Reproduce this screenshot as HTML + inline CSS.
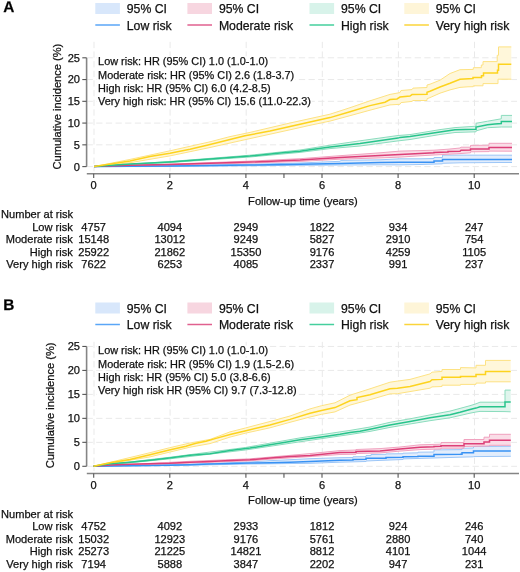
<!DOCTYPE html>
<html><head><meta charset="utf-8"><style>
html,body{margin:0;padding:0;background:#fff;width:520px;height:572px;overflow:hidden}
svg{display:block;will-change:transform}
text{font-family:"Liberation Sans", sans-serif;fill:#111;stroke:#111;stroke-width:0.25px}
.t11{font-size:11.08px}
.t12{font-size:12.25px}
.hr{font-size:10.9px}
.lab{text-rendering:geometricPrecision;font-size:15.4px;font-weight:bold;fill:#000}
.g{stroke:#e9e9e9;stroke-width:1;stroke-dasharray:6.3 3.35}
.e{fill:none;stroke-width:1}
.l{fill:none;stroke-width:1.5;stroke-linejoin:miter}
.ax{stroke:#858585;stroke-width:1.6}
.tk{stroke:#555;stroke-width:1.1}
</style></head><body>
<svg width="520" height="572" viewBox="0 0 520 572">
<line x1="87.5" y1="166.60" x2="517" y2="166.60" class="g" stroke-dashoffset="0.95"/>
<line x1="87.5" y1="144.84" x2="517" y2="144.84" class="g" stroke-dashoffset="0.95"/>
<line x1="87.5" y1="123.08" x2="517" y2="123.08" class="g" stroke-dashoffset="0.95"/>
<line x1="87.5" y1="101.32" x2="517" y2="101.32" class="g" stroke-dashoffset="0.95"/>
<line x1="87.5" y1="79.56" x2="517" y2="79.56" class="g" stroke-dashoffset="0.95"/>
<line x1="87.5" y1="57.80" x2="517" y2="57.80" class="g" stroke-dashoffset="0.95"/>
<line x1="94.00" y1="41.8" x2="94.00" y2="171.4" class="g"/>
<line x1="170.10" y1="41.8" x2="170.10" y2="171.4" class="g"/>
<line x1="246.20" y1="41.8" x2="246.20" y2="171.4" class="g"/>
<line x1="322.30" y1="41.8" x2="322.30" y2="171.4" class="g"/>
<line x1="398.40" y1="41.8" x2="398.40" y2="171.4" class="g"/>
<line x1="474.50" y1="41.8" x2="474.50" y2="171.4" class="g"/>
<polygon points="94.0,166.6 170.0,165.5 250.0,164.3 300.0,163.0 340.0,161.3 341.0,160.4 380.0,159.8 400.0,158.8 420.0,158.8 434.0,158.5 434.0,157.5 442.5,157.5 442.5,155.1 512.0,155.2 512.0,162.5 500.0,162.5 460.0,162.8 442.5,163.3 442.5,163.8 420.0,164.5 400.0,164.9 380.0,164.8 340.0,165.0 300.0,165.3 250.0,165.8 170.0,166.5 94.0,166.6" fill="#e2edfc" fill-opacity="1"/>
<polygon points="94.0,166.6 170.0,164.1 250.0,161.1 300.0,158.7 340.0,155.7 380.0,152.8 400.0,151.1 420.0,150.6 434.0,150.2 448.0,149.2 460.0,148.0 461.0,147.2 470.5,147.2 470.5,145.4 489.0,145.2 489.0,143.3 512.0,143.3 512.0,151.2 489.0,151.1 489.0,151.6 470.5,151.8 470.5,152.8 460.0,153.6 434.0,155.0 420.0,155.8 400.0,157.1 380.0,157.9 340.0,159.2 300.0,161.4 250.0,163.1 170.0,164.9 94.0,166.6" fill="#fadde7" fill-opacity="1"/>
<polygon points="94.0,166.6 170.0,161.5 250.0,155.2 300.0,150.0 330.0,145.2 360.0,140.8 398.0,135.5 410.0,134.6 440.0,129.6 455.0,127.6 476.0,126.2 476.0,123.3 487.6,121.2 501.3,118.8 501.3,115.4 512.0,115.4 512.0,127.0 501.3,127.0 487.6,127.7 476.0,130.9 476.0,131.8 455.0,132.5 440.0,134.5 410.0,139.5 398.0,140.9 360.0,146.0 330.0,148.6 300.0,152.4 250.0,157.0 170.0,162.5 94.0,166.6" fill="#e0f5ed" fill-opacity="1"/>
<polygon points="94.0,166.6 130.0,159.4 170.0,150.8 210.0,141.8 230.0,136.6 250.0,132.4 290.0,123.0 310.0,118.6 330.0,114.2 350.0,107.7 370.0,100.8 390.0,94.4 400.0,92.6 401.0,90.5 412.0,89.6 413.0,88.1 427.0,87.5 427.0,85.0 430.0,84.2 440.0,80.2 450.0,73.5 460.0,69.7 473.3,69.4 473.3,67.7 481.3,67.7 481.3,65.0 483.0,65.0 483.0,61.6 497.2,61.6 497.2,55.3 498.5,55.3 498.5,46.9 511.3,46.9 511.3,79.2 498.0,79.2 498.0,83.6 483.0,83.6 483.0,85.8 473.3,85.8 473.3,86.7 468.0,86.8 460.0,87.4 450.0,89.9 440.0,93.2 430.0,97.6 427.0,98.8 427.0,100.5 413.0,100.5 412.0,101.4 401.0,102.6 400.0,104.3 390.0,104.9 370.0,110.2 350.0,115.7 330.0,121.1 310.0,125.3 290.0,129.8 250.0,138.6 210.0,147.5 170.0,155.9 130.0,162.7 94.0,166.6" fill="#fff7da" fill-opacity="1"/>
<polyline points="94.0,166.6 170.0,165.5 250.0,164.3 300.0,163.0 340.0,161.3 341.0,160.4 380.0,159.8 400.0,158.8 420.0,158.8 434.0,158.5 434.0,157.5 442.5,157.5 442.5,155.1 512.0,155.2" class="e" stroke="#9cc6f7"/>
<polyline points="94.0,166.6 170.0,166.5 250.0,165.8 300.0,165.3 340.0,165.0 380.0,164.8 400.0,164.9 420.0,164.5 442.5,163.8 442.5,163.3 460.0,162.8 500.0,162.5 512.0,162.5" class="e" stroke="#9cc6f7"/>
<polyline points="94.0,166.6 170.0,164.1 250.0,161.1 300.0,158.7 340.0,155.7 380.0,152.8 400.0,151.1 420.0,150.6 434.0,150.2 448.0,149.2 460.0,148.0 461.0,147.2 470.5,147.2 470.5,145.4 489.0,145.2 489.0,143.3 512.0,143.3" class="e" stroke="#f0a2bf"/>
<polyline points="94.0,166.6 170.0,164.9 250.0,163.1 300.0,161.4 340.0,159.2 380.0,157.9 400.0,157.1 420.0,155.8 434.0,155.0 460.0,153.6 470.5,152.8 470.5,151.8 489.0,151.6 489.0,151.1 512.0,151.2" class="e" stroke="#f0a2bf"/>
<polyline points="94.0,166.6 170.0,161.5 250.0,155.2 300.0,150.0 330.0,145.2 360.0,140.8 398.0,135.5 410.0,134.6 440.0,129.6 455.0,127.6 476.0,126.2 476.0,123.3 487.6,121.2 501.3,118.8 501.3,115.4 512.0,115.4" class="e" stroke="#8bdcbd"/>
<polyline points="94.0,166.6 170.0,162.5 250.0,157.0 300.0,152.4 330.0,148.6 360.0,146.0 398.0,140.9 410.0,139.5 440.0,134.5 455.0,132.5 476.0,131.8 476.0,130.9 487.6,127.7 501.3,127.0 512.0,127.0" class="e" stroke="#8bdcbd"/>
<polyline points="94.0,166.6 130.0,159.4 170.0,150.8 210.0,141.8 230.0,136.6 250.0,132.4 290.0,123.0 310.0,118.6 330.0,114.2 350.0,107.7 370.0,100.8 390.0,94.4 400.0,92.6 401.0,90.5 412.0,89.6 413.0,88.1 427.0,87.5 427.0,85.0 430.0,84.2 440.0,80.2 450.0,73.5 460.0,69.7 473.3,69.4 473.3,67.7 481.3,67.7 481.3,65.0 483.0,65.0 483.0,61.6 497.2,61.6 497.2,55.3 498.5,55.3 498.5,46.9 511.3,46.9" class="e" stroke="#fde283"/>
<polyline points="94.0,166.6 130.0,162.7 170.0,155.9 210.0,147.5 250.0,138.6 290.0,129.8 310.0,125.3 330.0,121.1 350.0,115.7 370.0,110.2 390.0,104.9 400.0,104.3 401.0,102.6 412.0,101.4 413.0,100.5 427.0,100.5 427.0,98.8 430.0,97.6 440.0,93.2 450.0,89.9 460.0,87.4 468.0,86.8 473.3,86.7 473.3,85.8 483.0,85.8 483.0,83.6 498.0,83.6 498.0,79.2 511.3,79.2" class="e" stroke="#fde283"/>
<polyline points="94.0,166.6 130.0,166.3 170.0,166.0 250.0,165.0 300.0,164.2 340.0,163.4 380.0,162.6 400.0,162.3 420.0,162.3 434.0,162.2 434.0,161.0 442.5,161.0 442.5,159.6 512.0,159.5" class="l" stroke="#3892f4"/>
<polyline points="94.0,166.6 130.0,165.2 170.0,164.5 250.0,162.1 300.0,160.1 340.0,157.6 380.0,155.5 400.0,154.5 420.0,153.5 434.0,152.8 434.0,152.5 448.0,152.0 448.0,151.6 460.0,151.2 461.0,150.3 470.5,150.1 470.5,149.1 489.0,148.9 489.0,147.6 512.0,147.6" class="l" stroke="#dc3f78"/>
<polyline points="94.0,166.6 130.0,164.1 170.0,162.0 250.0,156.1 280.0,153.0 300.0,151.2 310.0,149.8 330.0,146.9 360.0,143.4 398.0,138.1 400.0,137.4 410.0,136.5 440.0,132.1 455.0,129.8 476.0,129.2 476.0,127.1 487.6,124.8 494.8,124.1 501.3,123.6 501.3,121.5 512.0,121.5" class="l" stroke="#28c48c"/>
<polyline points="94.0,166.6 130.0,161.0 150.0,156.6 170.0,153.2 190.0,149.3 208.0,145.1 230.0,139.6 245.0,135.8 270.0,131.1 290.0,126.4 310.0,122.0 330.0,117.6 350.0,111.8 370.0,105.6 385.0,102.2 390.0,99.6 397.0,98.9 400.0,97.0 410.0,96.0 412.0,94.6 427.0,94.3 427.0,92.2 430.0,91.3 440.0,87.0 450.0,83.3 460.0,79.2 473.0,78.6 473.0,77.5 481.5,77.5 481.5,75.7 483.5,75.7 483.5,73.1 497.5,73.1 497.5,70.3 498.5,70.3 498.5,64.2 511.3,64.2" class="l" stroke="#fdd31e"/>
<line x1="86.6" y1="57.80" x2="86.6" y2="166.60" class="ax"/>
<line x1="82.3" y1="166.60" x2="86.6" y2="166.60" class="tk"/>
<text x="80" y="170.50" class="t11" text-anchor="end">0</text>
<line x1="82.3" y1="144.84" x2="86.6" y2="144.84" class="tk"/>
<text x="80" y="148.74" class="t11" text-anchor="end">5</text>
<line x1="82.3" y1="123.08" x2="86.6" y2="123.08" class="tk"/>
<text x="80" y="126.98" class="t11" text-anchor="end">10</text>
<line x1="82.3" y1="101.32" x2="86.6" y2="101.32" class="tk"/>
<text x="80" y="105.22" class="t11" text-anchor="end">15</text>
<line x1="82.3" y1="79.56" x2="86.6" y2="79.56" class="tk"/>
<text x="80" y="83.46" class="t11" text-anchor="end">20</text>
<line x1="82.3" y1="57.80" x2="86.6" y2="57.80" class="tk"/>
<text x="80" y="61.70" class="t11" text-anchor="end">25</text>
<line x1="86.8" y1="173.80" x2="519" y2="173.80" class="ax"/>
<line x1="93.70" y1="173.80" x2="93.70" y2="178.00" class="tk"/>
<text x="93.70" y="189.00" class="t11" text-anchor="middle">0</text>
<line x1="169.80" y1="173.80" x2="169.80" y2="178.00" class="tk"/>
<text x="169.80" y="189.00" class="t11" text-anchor="middle">2</text>
<line x1="245.90" y1="173.80" x2="245.90" y2="178.00" class="tk"/>
<text x="245.90" y="189.00" class="t11" text-anchor="middle">4</text>
<line x1="283.95" y1="173.80" x2="283.95" y2="178.00" class="tk"/>
<line x1="322.00" y1="173.80" x2="322.00" y2="178.00" class="tk"/>
<text x="322.00" y="189.00" class="t11" text-anchor="middle">6</text>
<line x1="398.10" y1="173.80" x2="398.10" y2="178.00" class="tk"/>
<text x="398.10" y="189.00" class="t11" text-anchor="middle">8</text>
<line x1="474.20" y1="173.80" x2="474.20" y2="178.00" class="tk"/>
<text x="474.20" y="189.00" class="t11" text-anchor="middle">10</text>
<text x="302.9" y="204.60" class="t11" text-anchor="middle">Follow-up time (years)</text>
<text transform="translate(61.2,106.60) rotate(-90)" class="t11" text-anchor="middle" style="font-size:11.1px">Cumulative incidence (%)</text>
<rect x="96.6" y="56.30" width="172.41" height="10.6" fill="#fff"/>
<rect x="96.6" y="70.40" width="198.45" height="10.6" fill="#fff"/>
<rect x="96.6" y="83.50" width="174.83" height="10.6" fill="#fff"/>
<rect x="96.6" y="96.70" width="215.22" height="10.6" fill="#fff"/>
<text x="98.1" y="64.60" class="hr">Low risk: HR (95% CI) 1.0 (1.0-1.0)</text>
<text x="98.1" y="78.70" class="hr">Moderate risk: HR (95% CI) 2.6 (1.8-3.7)</text>
<text x="98.1" y="91.80" class="hr">High risk: HR (95% CI) 6.0 (4.2-8.5)</text>
<text x="98.1" y="105.00" class="hr">Very high risk: HR (95% CI) 15.6 (11.0-22.3)</text>
<rect x="95.3" y="3" width="24.6" height="11" fill="#d8e7fb"/>
<line x1="95.3" y1="25" x2="119.9" y2="25" stroke="#5aa6f7" stroke-width="1.5"/>
<text x="126.8" y="13.00" class="t12">95% CI</text>
<rect x="187.4" y="3" width="24.6" height="11" fill="#f7d6e0"/>
<line x1="187.4" y1="25" x2="212.0" y2="25" stroke="#e0608f" stroke-width="1.5"/>
<text x="218.9" y="13.00" class="t12">95% CI</text>
<rect x="309.5" y="3" width="24.6" height="11" fill="#d8f3ea"/>
<line x1="309.5" y1="25" x2="334.1" y2="25" stroke="#45cf9d" stroke-width="1.5"/>
<text x="341.0" y="13.00" class="t12">95% CI</text>
<rect x="404.3" y="3" width="24.6" height="11" fill="#fef5d8"/>
<line x1="404.3" y1="25" x2="428.90000000000003" y2="25" stroke="#fbd43a" stroke-width="1.5"/>
<text x="435.8" y="13.00" class="t12">95% CI</text>
<text x="126.8" y="29.60" class="t12">Low risk</text>
<text x="218.9" y="29.60" class="t12">Moderate risk</text>
<text x="341.0" y="29.60" class="t12">High risk</text>
<text x="435.8" y="29.60" class="t12">Very high risk</text>
<text x="3.2" y="11.6" class="lab">A</text>
<text x="1" y="217.9" class="t11">Number at risk</text>
<text x="72.8" y="230.5" class="t11" text-anchor="end">Low risk</text>
<text x="93.70" y="230.5" class="t11" text-anchor="middle">4757</text>
<text x="169.80" y="230.5" class="t11" text-anchor="middle">4094</text>
<text x="245.90" y="230.5" class="t11" text-anchor="middle">2949</text>
<text x="322.00" y="230.5" class="t11" text-anchor="middle">1822</text>
<text x="398.10" y="230.5" class="t11" text-anchor="middle">934</text>
<text x="474.20" y="230.5" class="t11" text-anchor="middle">247</text>
<text x="72.8" y="243" class="t11" text-anchor="end">Moderate risk</text>
<text x="93.70" y="243" class="t11" text-anchor="middle">15148</text>
<text x="169.80" y="243" class="t11" text-anchor="middle">13012</text>
<text x="245.90" y="243" class="t11" text-anchor="middle">9249</text>
<text x="322.00" y="243" class="t11" text-anchor="middle">5827</text>
<text x="398.10" y="243" class="t11" text-anchor="middle">2910</text>
<text x="474.20" y="243" class="t11" text-anchor="middle">754</text>
<text x="72.8" y="255.5" class="t11" text-anchor="end">High risk</text>
<text x="93.70" y="255.5" class="t11" text-anchor="middle">25922</text>
<text x="169.80" y="255.5" class="t11" text-anchor="middle">21862</text>
<text x="245.90" y="255.5" class="t11" text-anchor="middle">15350</text>
<text x="322.00" y="255.5" class="t11" text-anchor="middle">9176</text>
<text x="398.10" y="255.5" class="t11" text-anchor="middle">4259</text>
<text x="474.20" y="255.5" class="t11" text-anchor="middle">1105</text>
<text x="72.8" y="268.4" class="t11" text-anchor="end">Very high risk</text>
<text x="93.70" y="268.4" class="t11" text-anchor="middle">7622</text>
<text x="169.80" y="268.4" class="t11" text-anchor="middle">6253</text>
<text x="245.90" y="268.4" class="t11" text-anchor="middle">4085</text>
<text x="322.00" y="268.4" class="t11" text-anchor="middle">2337</text>
<text x="398.10" y="268.4" class="t11" text-anchor="middle">991</text>
<text x="474.20" y="268.4" class="t11" text-anchor="middle">237</text>
<line x1="87.5" y1="466.30" x2="517" y2="466.30" class="g" stroke-dashoffset="0.95"/>
<line x1="87.5" y1="442.33" x2="517" y2="442.33" class="g" stroke-dashoffset="0.95"/>
<line x1="87.5" y1="418.36" x2="517" y2="418.36" class="g" stroke-dashoffset="0.95"/>
<line x1="87.5" y1="394.39" x2="517" y2="394.39" class="g" stroke-dashoffset="0.95"/>
<line x1="87.5" y1="370.42" x2="517" y2="370.42" class="g" stroke-dashoffset="0.95"/>
<line x1="87.5" y1="346.45" x2="517" y2="346.45" class="g" stroke-dashoffset="0.95"/>
<line x1="94.00" y1="341.8" x2="94.00" y2="471.1" class="g"/>
<line x1="170.10" y1="341.8" x2="170.10" y2="471.1" class="g"/>
<line x1="246.20" y1="341.8" x2="246.20" y2="471.1" class="g"/>
<line x1="322.30" y1="341.8" x2="322.30" y2="471.1" class="g"/>
<line x1="398.40" y1="341.8" x2="398.40" y2="471.1" class="g"/>
<line x1="474.50" y1="341.8" x2="474.50" y2="471.1" class="g"/>
<polygon points="93.5,466.3 190.0,464.2 250.0,462.0 270.0,460.7 310.0,458.7 340.0,457.7 353.0,457.5 353.0,456.8 366.0,456.6 366.0,455.6 371.0,455.6 371.0,454.5 386.0,454.3 386.0,453.9 403.0,453.7 403.0,453.2 418.0,452.8 418.0,452.2 434.0,452.0 434.0,449.9 462.0,449.6 462.0,448.3 473.5,448.0 473.5,446.5 510.8,446.3 510.8,456.3 473.5,456.6 473.5,456.8 460.0,457.2 420.0,458.4 403.0,458.9 403.0,459.5 380.0,460.4 366.0,461.0 366.0,461.5 340.0,462.2 310.0,463.3 270.0,463.8 250.0,464.0 190.0,465.2 93.5,466.3" fill="#e2edfc" fill-opacity="1"/>
<polygon points="93.5,466.3 190.0,461.3 250.0,458.8 270.0,457.1 310.0,453.6 340.0,450.6 356.0,450.0 356.0,449.5 380.0,448.6 400.0,447.0 420.0,444.8 441.0,444.2 441.0,442.5 464.0,442.5 464.0,439.5 484.0,439.5 484.0,437.2 489.5,437.2 489.5,434.3 510.8,434.3 510.8,445.3 489.5,445.3 489.5,446.0 464.0,446.5 464.0,448.2 441.0,448.2 441.0,449.0 420.0,449.6 400.0,451.1 380.0,452.9 356.0,453.5 356.0,454.2 340.0,454.5 310.0,456.6 270.0,459.2 250.0,460.8 190.0,463.0 93.5,466.3" fill="#fadde7" fill-opacity="1"/>
<polygon points="93.5,466.3 169.3,457.3 245.3,447.5 300.0,437.9 350.0,430.4 370.0,427.0 390.0,422.3 410.0,418.8 430.0,414.9 450.0,411.1 470.0,405.7 476.0,403.8 480.0,402.2 505.0,402.2 505.0,390.1 510.7,390.1 510.7,411.8 505.0,411.6 480.0,411.4 476.0,412.0 470.0,413.2 450.0,417.8 430.0,420.7 410.0,424.0 390.0,427.4 370.0,431.4 350.0,434.5 300.0,441.8 245.3,450.0 169.3,458.9 93.5,466.3" fill="#e0f5ed" fill-opacity="1"/>
<polygon points="93.5,466.3 150.0,452.7 169.3,447.8 190.0,443.0 210.0,439.4 230.0,431.9 245.3,428.0 270.0,421.5 290.0,416.0 310.0,408.9 321.5,405.7 335.0,402.8 350.0,395.2 370.0,388.8 390.0,382.2 397.4,381.1 410.0,379.4 430.0,373.9 432.0,372.2 442.0,371.4 442.0,369.5 460.5,369.5 460.5,367.6 476.0,367.9 476.0,365.3 485.5,365.3 485.5,360.4 510.7,360.4 510.7,381.8 485.5,381.8 485.5,383.1 476.0,383.1 476.0,384.4 460.5,384.4 460.5,385.2 442.0,385.2 442.0,386.5 432.0,386.9 430.0,388.2 410.0,391.6 397.4,393.7 390.0,393.9 370.0,399.7 350.0,405.1 335.0,411.9 321.5,414.3 310.0,417.0 290.0,422.3 270.0,427.8 245.3,433.2 230.0,437.1 210.0,443.6 190.0,447.2 169.3,452.2 150.0,456.9 93.5,466.3" fill="#fff7da" fill-opacity="1"/>
<polyline points="93.5,466.3 190.0,464.2 250.0,462.0 270.0,460.7 310.0,458.7 340.0,457.7 353.0,457.5 353.0,456.8 366.0,456.6 366.0,455.6 371.0,455.6 371.0,454.5 386.0,454.3 386.0,453.9 403.0,453.7 403.0,453.2 418.0,452.8 418.0,452.2 434.0,452.0 434.0,449.9 462.0,449.6 462.0,448.3 473.5,448.0 473.5,446.5 510.8,446.3" class="e" stroke="#9cc6f7"/>
<polyline points="93.5,466.3 190.0,465.2 250.0,464.0 270.0,463.8 310.0,463.3 340.0,462.2 366.0,461.5 366.0,461.0 380.0,460.4 403.0,459.5 403.0,458.9 420.0,458.4 460.0,457.2 473.5,456.8 473.5,456.6 510.8,456.3" class="e" stroke="#9cc6f7"/>
<polyline points="93.5,466.3 190.0,461.3 250.0,458.8 270.0,457.1 310.0,453.6 340.0,450.6 356.0,450.0 356.0,449.5 380.0,448.6 400.0,447.0 420.0,444.8 441.0,444.2 441.0,442.5 464.0,442.5 464.0,439.5 484.0,439.5 484.0,437.2 489.5,437.2 489.5,434.3 510.8,434.3" class="e" stroke="#f0a2bf"/>
<polyline points="93.5,466.3 190.0,463.0 250.0,460.8 270.0,459.2 310.0,456.6 340.0,454.5 356.0,454.2 356.0,453.5 380.0,452.9 400.0,451.1 420.0,449.6 441.0,449.0 441.0,448.2 464.0,448.2 464.0,446.5 489.5,446.0 489.5,445.3 510.8,445.3" class="e" stroke="#f0a2bf"/>
<polyline points="93.5,466.3 169.3,457.3 245.3,447.5 300.0,437.9 350.0,430.4 370.0,427.0 390.0,422.3 410.0,418.8 430.0,414.9 450.0,411.1 470.0,405.7 476.0,403.8 480.0,402.2 505.0,402.2 505.0,390.1 510.7,390.1" class="e" stroke="#8bdcbd"/>
<polyline points="93.5,466.3 169.3,458.9 245.3,450.0 300.0,441.8 350.0,434.5 370.0,431.4 390.0,427.4 410.0,424.0 430.0,420.7 450.0,417.8 470.0,413.2 476.0,412.0 480.0,411.4 505.0,411.6 510.7,411.8" class="e" stroke="#8bdcbd"/>
<polyline points="93.5,466.3 150.0,452.7 169.3,447.8 190.0,443.0 210.0,439.4 230.0,431.9 245.3,428.0 270.0,421.5 290.0,416.0 310.0,408.9 321.5,405.7 335.0,402.8 350.0,395.2 370.0,388.8 390.0,382.2 397.4,381.1 410.0,379.4 430.0,373.9 432.0,372.2 442.0,371.4 442.0,369.5 460.5,369.5 460.5,367.6 476.0,367.9 476.0,365.3 485.5,365.3 485.5,360.4 510.7,360.4" class="e" stroke="#fde283"/>
<polyline points="93.5,466.3 150.0,456.9 169.3,452.2 190.0,447.2 210.0,443.6 230.0,437.1 245.3,433.2 270.0,427.8 290.0,422.3 310.0,417.0 321.5,414.3 335.0,411.9 350.0,405.1 370.0,399.7 390.0,393.9 397.4,393.7 410.0,391.6 430.0,388.2 432.0,386.9 442.0,386.5 442.0,385.2 460.5,385.2 460.5,384.4 476.0,384.4 476.0,383.1 485.5,383.1 485.5,381.8 510.7,381.8" class="e" stroke="#fde283"/>
<polyline points="93.5,466.3 110.0,466.0 130.0,465.8 150.0,465.6 169.3,465.3 190.0,464.7 210.0,464.1 230.0,463.6 250.0,463.1 270.0,462.7 290.0,462.3 310.0,461.6 340.0,460.3 353.0,460.0 353.0,459.5 366.0,459.2 366.0,458.3 386.0,458.2 386.0,457.4 403.0,457.2 403.0,456.8 418.0,456.6 418.0,456.3 434.0,456.3 434.0,454.5 460.0,454.3 462.0,454.2 462.0,452.8 473.5,452.8 473.5,451.1 510.8,451.1" class="l" stroke="#3892f4"/>
<polyline points="93.5,466.3 110.0,465.0 130.0,464.2 150.0,463.8 169.3,463.3 190.0,462.2 210.0,461.5 230.0,460.6 250.0,459.8 270.0,458.1 290.0,456.5 310.0,455.4 340.0,452.5 356.0,452.2 356.0,451.4 380.0,450.9 400.0,449.1 420.0,447.3 434.0,446.8 434.0,446.4 441.0,446.3 441.0,445.7 464.0,445.7 464.0,443.7 484.0,443.7 484.0,442.1 489.5,442.1 489.5,440.3 510.8,440.3" class="l" stroke="#dc3f78"/>
<polyline points="93.5,466.3 110.0,463.8 130.0,462.2 150.0,460.3 169.3,458.1 190.0,455.3 210.0,453.7 230.0,450.5 250.0,448.1 270.0,444.8 290.0,441.4 300.0,439.8 321.4,437.0 340.0,434.3 350.0,432.5 360.0,431.3 370.0,429.3 390.0,424.9 410.0,421.5 430.0,417.7 450.0,414.7 460.0,412.3 470.0,409.5 476.0,408.1 480.0,406.8 505.0,406.8 505.0,401.9 510.7,401.9" class="l" stroke="#28c48c"/>
<polyline points="93.5,466.3 110.0,462.7 130.0,459.6 150.0,454.7 169.3,450.0 186.0,446.2 190.0,445.0 196.0,443.3 206.0,441.3 216.0,438.4 231.0,434.3 246.0,430.8 270.0,424.9 290.0,419.4 310.0,413.2 321.5,410.5 335.0,407.6 350.0,400.7 357.0,399.7 357.0,397.6 370.0,394.7 390.0,388.7 397.4,388.2 410.0,386.5 415.0,385.3 430.0,381.5 432.0,379.8 442.0,379.4 442.0,377.3 460.5,377.3 460.5,376.4 476.0,376.5 476.0,374.4 485.5,374.4 485.5,371.4 510.7,371.4" class="l" stroke="#fdd31e"/>
<line x1="86.6" y1="346.45" x2="86.6" y2="466.30" class="ax"/>
<line x1="82.3" y1="466.30" x2="86.6" y2="466.30" class="tk"/>
<text x="80" y="470.20" class="t11" text-anchor="end">0</text>
<line x1="82.3" y1="442.33" x2="86.6" y2="442.33" class="tk"/>
<text x="80" y="446.23" class="t11" text-anchor="end">5</text>
<line x1="82.3" y1="418.36" x2="86.6" y2="418.36" class="tk"/>
<text x="80" y="422.26" class="t11" text-anchor="end">10</text>
<line x1="82.3" y1="394.39" x2="86.6" y2="394.39" class="tk"/>
<text x="80" y="398.29" class="t11" text-anchor="end">15</text>
<line x1="82.3" y1="370.42" x2="86.6" y2="370.42" class="tk"/>
<text x="80" y="374.32" class="t11" text-anchor="end">20</text>
<line x1="82.3" y1="346.45" x2="86.6" y2="346.45" class="tk"/>
<text x="80" y="350.35" class="t11" text-anchor="end">25</text>
<line x1="86.8" y1="473.50" x2="519" y2="473.50" class="ax"/>
<line x1="93.70" y1="473.50" x2="93.70" y2="477.70" class="tk"/>
<text x="93.70" y="488.70" class="t11" text-anchor="middle">0</text>
<line x1="169.80" y1="473.50" x2="169.80" y2="477.70" class="tk"/>
<text x="169.80" y="488.70" class="t11" text-anchor="middle">2</text>
<line x1="245.90" y1="473.50" x2="245.90" y2="477.70" class="tk"/>
<text x="245.90" y="488.70" class="t11" text-anchor="middle">4</text>
<line x1="283.95" y1="473.50" x2="283.95" y2="477.70" class="tk"/>
<line x1="322.00" y1="473.50" x2="322.00" y2="477.70" class="tk"/>
<text x="322.00" y="488.70" class="t11" text-anchor="middle">6</text>
<line x1="398.10" y1="473.50" x2="398.10" y2="477.70" class="tk"/>
<text x="398.10" y="488.70" class="t11" text-anchor="middle">8</text>
<line x1="474.20" y1="473.50" x2="474.20" y2="477.70" class="tk"/>
<text x="474.20" y="488.70" class="t11" text-anchor="middle">10</text>
<text x="302.9" y="504.30" class="t11" text-anchor="middle">Follow-up time (years)</text>
<text transform="translate(54.4,405.40) rotate(-90)" class="t11" text-anchor="middle" style="font-size:11.1px">Cumulative incidence (%)</text>
<rect x="96.6" y="345.50" width="172.41" height="10.6" fill="#fff"/>
<rect x="96.6" y="359.60" width="198.45" height="10.6" fill="#fff"/>
<rect x="96.6" y="372.40" width="174.83" height="10.6" fill="#fff"/>
<rect x="96.6" y="385.50" width="200.88" height="10.6" fill="#fff"/>
<text x="98.1" y="353.80" class="hr">Low risk: HR (95% CI) 1.0 (1.0-1.0)</text>
<text x="98.1" y="367.90" class="hr">Moderate risk: HR (95% CI) 1.9 (1.5-2.6)</text>
<text x="98.1" y="380.70" class="hr">High risk: HR (95% CI) 5.0 (3.8-6.6)</text>
<text x="98.1" y="393.80" class="hr">Very high risk HR (95% CI) 9.7 (7.3-12.8)</text>
<rect x="95.3" y="302.5" width="24.6" height="11" fill="#d8e7fb"/>
<line x1="95.3" y1="324.5" x2="119.9" y2="324.5" stroke="#5aa6f7" stroke-width="1.5"/>
<text x="126.8" y="312.50" class="t12">95% CI</text>
<rect x="187.4" y="302.5" width="24.6" height="11" fill="#f7d6e0"/>
<line x1="187.4" y1="324.5" x2="212.0" y2="324.5" stroke="#e0608f" stroke-width="1.5"/>
<text x="218.9" y="312.50" class="t12">95% CI</text>
<rect x="309.5" y="302.5" width="24.6" height="11" fill="#d8f3ea"/>
<line x1="309.5" y1="324.5" x2="334.1" y2="324.5" stroke="#45cf9d" stroke-width="1.5"/>
<text x="341.0" y="312.50" class="t12">95% CI</text>
<rect x="404.3" y="302.5" width="24.6" height="11" fill="#fef5d8"/>
<line x1="404.3" y1="324.5" x2="428.90000000000003" y2="324.5" stroke="#fbd43a" stroke-width="1.5"/>
<text x="435.8" y="312.50" class="t12">95% CI</text>
<text x="126.8" y="329.10" class="t12">Low risk</text>
<text x="218.9" y="329.10" class="t12">Moderate risk</text>
<text x="341.0" y="329.10" class="t12">High risk</text>
<text x="435.8" y="329.10" class="t12">Very high risk</text>
<text x="3.2" y="309.9" class="lab">B</text>
<text x="1" y="517.7" class="t11">Number at risk</text>
<text x="72.8" y="530.2" class="t11" text-anchor="end">Low risk</text>
<text x="93.70" y="530.2" class="t11" text-anchor="middle">4752</text>
<text x="169.80" y="530.2" class="t11" text-anchor="middle">4092</text>
<text x="245.90" y="530.2" class="t11" text-anchor="middle">2933</text>
<text x="322.00" y="530.2" class="t11" text-anchor="middle">1812</text>
<text x="398.10" y="530.2" class="t11" text-anchor="middle">924</text>
<text x="474.20" y="530.2" class="t11" text-anchor="middle">246</text>
<text x="72.8" y="542.7" class="t11" text-anchor="end">Moderate risk</text>
<text x="93.70" y="542.7" class="t11" text-anchor="middle">15032</text>
<text x="169.80" y="542.7" class="t11" text-anchor="middle">12923</text>
<text x="245.90" y="542.7" class="t11" text-anchor="middle">9176</text>
<text x="322.00" y="542.7" class="t11" text-anchor="middle">5761</text>
<text x="398.10" y="542.7" class="t11" text-anchor="middle">2880</text>
<text x="474.20" y="542.7" class="t11" text-anchor="middle">740</text>
<text x="72.8" y="555.4" class="t11" text-anchor="end">High risk</text>
<text x="93.70" y="555.4" class="t11" text-anchor="middle">25273</text>
<text x="169.80" y="555.4" class="t11" text-anchor="middle">21225</text>
<text x="245.90" y="555.4" class="t11" text-anchor="middle">14821</text>
<text x="322.00" y="555.4" class="t11" text-anchor="middle">8812</text>
<text x="398.10" y="555.4" class="t11" text-anchor="middle">4101</text>
<text x="474.20" y="555.4" class="t11" text-anchor="middle">1044</text>
<text x="72.8" y="567.7" class="t11" text-anchor="end">Very high risk</text>
<text x="93.70" y="567.7" class="t11" text-anchor="middle">7194</text>
<text x="169.80" y="567.7" class="t11" text-anchor="middle">5888</text>
<text x="245.90" y="567.7" class="t11" text-anchor="middle">3847</text>
<text x="322.00" y="567.7" class="t11" text-anchor="middle">2202</text>
<text x="398.10" y="567.7" class="t11" text-anchor="middle">947</text>
<text x="474.20" y="567.7" class="t11" text-anchor="middle">231</text>
</svg>
</body></html>
